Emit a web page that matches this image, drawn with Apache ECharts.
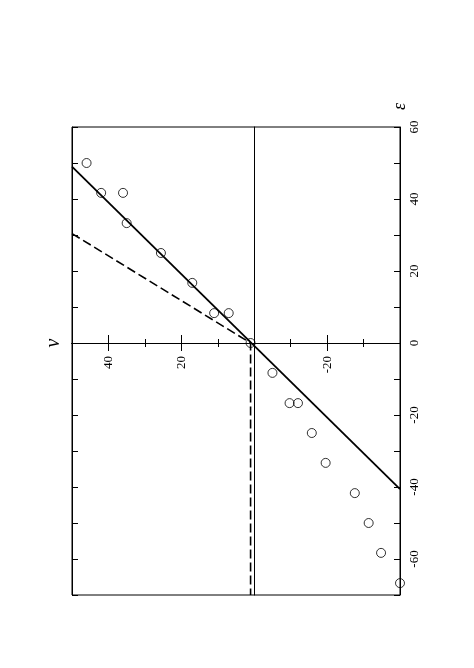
<!DOCTYPE html>
<html>
<head>
<meta charset="utf-8">
<script src="https://cdn.jsdelivr.net/npm/echarts@6/dist/echarts.min.js"></script>
<style>
html, body { margin: 0; padding: 0; background: #fff; }
#chart { width: 474px; height: 668px; }
</style>
</head>
<body>
<div id="chart"></div>
<script>
// points: v (grows to the left) and epsilon (grows upward)
const vValues = [46, 42, 36, 35, 25.6, 17, 11, 7, 1, -5, -9.7, -12, -15.8, -19.6, -27.6, -31.4, -34.8, -40]
const epsValues = [50, 41.7, 41.7, 33.3, 25, 16.7, 8.3, 8.3, 0, -8.3, -16.7, -16.7, -25, -33.3, -41.7, -50, -58.3, -66.7]

// solid fit line and dashed broken line, as [v, eps] pairs
const fitLine = [[50, 49], [-40, -40.6]]
const dashedLine = [[50, 30.4], [1, 0], [1, -70]]

// tick labels / tick places
const vLabels = [40, 20, -20]
const vMinorTicks = [30, 10, -10, -30]
const epsLabels = [60, 40, 20, 0, -20, -40, -60]

const FONT = 'Liberation Serif'
const BLACK = '#000'

const GRID_TOP = 127
const GRID_H = 468
const EPS_MIN = -70
const EPS_MAX = 60
// distance from the top of the grid down to eps = 0
const zeroY = GRID_H * EPS_MAX / (EPS_MAX - EPS_MIN)

// v axis, drawn on eps = 0; one on each side so the ticks cross the line
function vAxis(position, ticks, len, withLabels) {
    const ax = {
        type: 'value',
        position: position,
        offset: position === 'bottom' ? -(GRID_H - zeroY) : -zeroY,
        inverse: true,
        min: -40,
        max: 50,
        interval: 10,
        axisLine: { show: true, onZero: false, lineStyle: { color: BLACK, width: 1 } },
        axisTick: { show: true, inside: false, length: len, customValues: ticks, lineStyle: { color: BLACK, width: 1 } },
        axisLabel: { show: false },
        splitLine: { show: false },
    }
    if (withLabels) {
        ax.axisLabel = {
            show: true,
            customValues: vLabels,
            rotate: 90,
            margin: 13,
            color: BLACK,
            fontFamily: FONT,
            fontSize: 13,
        }
        ax.name = 'v'
        ax.nameLocation = 'end'
        ax.nameGap = 8
        ax.nameRotate = 90
        ax.nameTextStyle = { color: BLACK, fontFamily: FONT, fontStyle: 'italic', fontSize: 20 }
    }
    return ax
}

function epsAxis(position) {
    return {
        type: 'value',
        position: position,
        min: EPS_MIN,
        max: EPS_MAX,
        interval: 10,
        axisLine: { show: true, onZero: false, lineStyle: { color: BLACK, width: 1 } },
        axisTick: { show: true, inside: true, length: 6, lineStyle: { color: BLACK, width: 1 } },
        axisLabel: { show: false },
        splitLine: { show: false },
    }
}

const epsRight = epsAxis('right')
epsRight.axisLabel = {
    show: true,
    customValues: epsLabels,
    rotate: 90,
    margin: 8,
    color: BLACK,
    fontFamily: FONT,
    fontSize: 13,
}
epsRight.name = 'ε'
epsRight.nameLocation = 'end'
epsRight.nameGap = 17
epsRight.nameRotate = 90
epsRight.nameTextStyle = { color: BLACK, fontFamily: FONT, fontStyle: 'italic', fontSize: 18 }

// vertical line at v = 0
const zeroAxis = {
    type: 'value',
    min: EPS_MIN,
    max: EPS_MAX,
    axisLine: { show: true, onZero: true, onZeroAxisIndex: 0, lineStyle: { color: BLACK, width: 1 } },
    axisTick: { show: false },
    axisLabel: { show: false },
    splitLine: { show: false },
}

const option = {
    animation: false,
    backgroundColor: '#fff',
    grid: {
        left: 72,
        top: GRID_TOP,
        width: 328,
        height: GRID_H,
        show: true,
        borderColor: BLACK,
        borderWidth: 1,
        containLabel: false,
        outerBoundsMode: 'none',
    },
    xAxis: [
        vAxis('bottom', vLabels, 8, true),
        vAxis('top', vLabels, 8, false),
        vAxis('bottom', vMinorTicks, 4, false),
        vAxis('top', vMinorTicks, 4, false),
    ],
    yAxis: [epsRight, epsAxis('left'), zeroAxis],
    series: [
        {
            type: 'line',
            data: fitLine,
            showSymbol: false,
            silent: true,
            lineStyle: { color: BLACK, width: 1.8 },
        },
        {
            type: 'line',
            data: dashedLine,
            showSymbol: false,
            silent: true,
            lineStyle: { color: BLACK, width: 1.6, type: [9, 4] },
        },
        {
            type: 'scatter',
            data: vValues.map((v, i) => [v, epsValues[i]]),
            symbol: 'circle',
            symbolSize: 9,
            silent: true,
            itemStyle: { color: 'rgba(0,0,0,0)', borderColor: BLACK, borderWidth: 1 },
        },
    ],
}

const myChart = echarts.init(document.getElementById('chart'))
myChart.setOption(option)
</script>
</body>
</html>
